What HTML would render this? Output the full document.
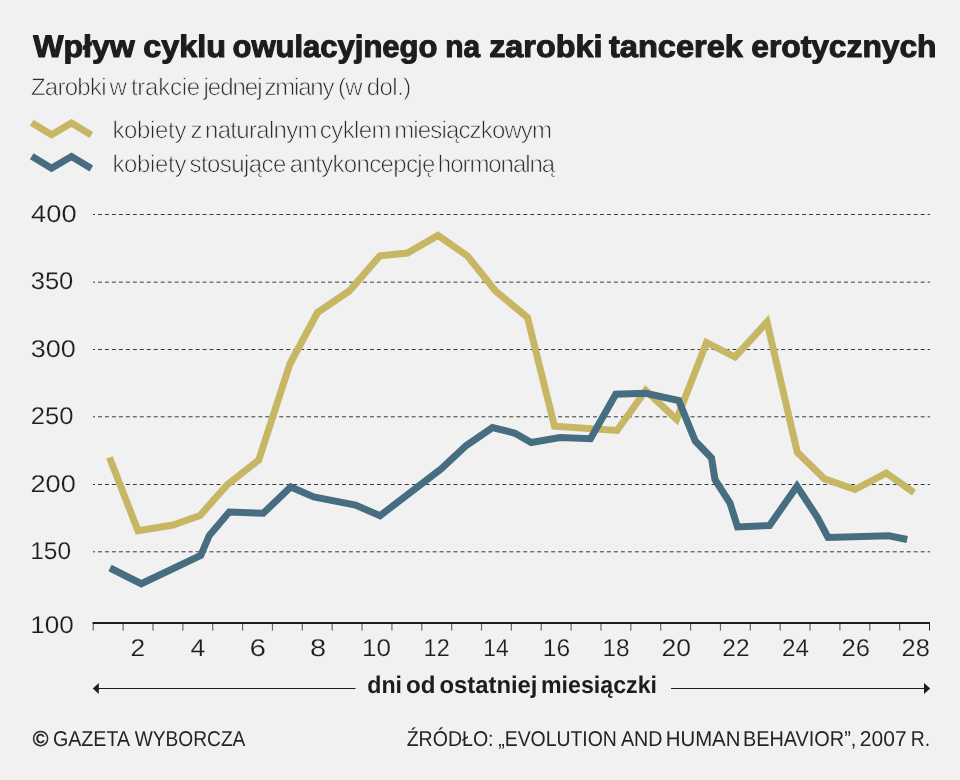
<!DOCTYPE html>
<html lang="pl">
<head>
<meta charset="utf-8">
<title>Wpływ cyklu owulacyjnego na zarobki tancerek erotycznych</title>
<style>
html,body{margin:0;padding:0;background:#f1f1f1;}
body{width:960px;height:780px;overflow:hidden;font-family:"Liberation Sans",sans-serif;}
svg{display:block;position:absolute;left:0;top:0;}
text{font-family:"Liberation Sans",sans-serif;fill:#1d1d1b;text-rendering:geometricPrecision;}
.title{font-weight:bold;font-size:31px;stroke:#1d1d1b;stroke-width:1.1px;stroke-linejoin:round;}
.sub,.leg{font-size:24px;fill:#2b2b2b;stroke:#f1f1f1;stroke-width:0.7px;}
.ylab,.xlab{font-size:24.2px;fill:#1d1d1b;stroke:#f1f1f1;stroke-width:0.2px;}
.axt{font-weight:bold;font-size:24px;}
.foot{font-size:21.5px;fill:#242424;}
.foot .cr{stroke:#242424;stroke-width:0.5px;}
.grid line{stroke:#3a3a3a;stroke-width:1;stroke-dasharray:3.984 2.988;stroke-dashoffset:1.984;}
.ticks line{stroke:#666;stroke-width:1.2;}
.ticks line.last{stroke:#222;stroke-width:1;}
.axis{stroke:#1d1d1b;stroke-width:2;}
.arr{stroke:#1d1d1b;stroke-width:1;}
.arrh{fill:#1d1d1b;}
.ser{fill:none;stroke-width:7;stroke-linejoin:miter;stroke-linecap:butt;}
.y{stroke:#c7b664;}
.b{stroke:#466e80;}
</style>
</head>
<body>
<svg width="960" height="780" viewBox="0 0 960 780" role="img" aria-label="Wykres: wpływ cyklu owulacyjnego na zarobki tancerek erotycznych">
<rect width="960" height="780" fill="#f1f1f1"/>
<g class="header">
<text class="title" y="57"><tspan x="33.15" textLength="101.62" lengthAdjust="spacingAndGlyphs">Wpływ</tspan> <tspan x="143.34" textLength="82.63" lengthAdjust="spacingAndGlyphs">cyklu</tspan> <tspan x="232.51" textLength="204.90" lengthAdjust="spacingAndGlyphs">owulacyjnego</tspan> <tspan x="445.25" textLength="34.80" lengthAdjust="spacingAndGlyphs">na</tspan> <tspan x="489.16" textLength="113.24" lengthAdjust="spacingAndGlyphs">zarobki</tspan> <tspan x="608.94" textLength="134.06" lengthAdjust="spacingAndGlyphs">tancerek</tspan> <tspan x="751.23" textLength="185.28" lengthAdjust="spacingAndGlyphs">erotycznych</tspan></text>
<text class="sub" y="95"><tspan x="30.89" textLength="75.62" lengthAdjust="spacing">Zarobki</tspan> <tspan x="109.42" textLength="13.87" lengthAdjust="spacing">w</tspan> <tspan x="130.90" textLength="69.17" lengthAdjust="spacing">trakcie</tspan> <tspan x="203.50" textLength="59.01" lengthAdjust="spacing">jednej</tspan> <tspan x="264.50" textLength="69.92" lengthAdjust="spacing">zmiany</tspan> <tspan x="338.00" textLength="24.65" lengthAdjust="spacing">(w</tspan> <tspan x="366.68" textLength="44.63" lengthAdjust="spacing">dol.)</tspan></text>
</g>
<g class="legend">
<polyline class="ser y" points="31.75,122.85 51.5,134.8 71.5,123.1 91.35,135"/>
<text class="leg" y="138.2"><tspan x="112.43" textLength="73.97" lengthAdjust="spacing">kobiety</tspan> <tspan x="190.54" textLength="13.82" lengthAdjust="spacing">z</tspan> <tspan x="205.00" textLength="112.57" lengthAdjust="spacing">naturalnym</tspan> <tspan x="319.84" textLength="71.73" lengthAdjust="spacing">cyklem</tspan> <tspan x="394.23" textLength="157.77" lengthAdjust="spacing">miesiączkowym</tspan></text>
<polyline class="ser b" points="31.75,156.35 51.5,168.3 71.5,156.6 91.35,168.5"/>
<text class="leg" y="171.5"><tspan x="112.43" textLength="73.97" lengthAdjust="spacing">kobiety</tspan> <tspan x="189.57" textLength="96.73" lengthAdjust="spacing">stosujące</tspan> <tspan x="289.79" textLength="145.49" lengthAdjust="spacing">antykoncepcję</tspan> <tspan x="437.85" textLength="117.28" lengthAdjust="spacing">hormonalną</tspan></text>
</g>
<g class="grid">
<line x1="93" y1="214.5" x2="930" y2="214.5"/>
<line x1="93" y1="282.15" x2="930" y2="282.15"/>
<line x1="93" y1="349.5" x2="930" y2="349.5"/>
<line x1="93" y1="416.8" x2="930" y2="416.8"/>
<line x1="93" y1="484.5" x2="930" y2="484.5"/>
<line x1="93" y1="551.8" x2="930" y2="551.8"/>
</g>
<g class="ylabels">
<text class="ylab" y="221.7"><tspan x="31.14" textLength="45.44" lengthAdjust="spacingAndGlyphs">400</tspan></text>
<text class="ylab" y="289.3"><tspan x="30.67" textLength="42.67" lengthAdjust="spacingAndGlyphs">350</tspan></text>
<text class="ylab" y="356.7"><tspan x="30.72" textLength="45.07" lengthAdjust="spacingAndGlyphs">300</tspan></text>
<text class="ylab" y="424.3"><tspan x="30.83" textLength="42.71" lengthAdjust="spacingAndGlyphs">250</tspan></text>
<text class="ylab" y="491.7"><tspan x="30.48" textLength="45.31" lengthAdjust="spacingAndGlyphs">200</tspan></text>
<text class="ylab" y="559"><tspan x="30.27" textLength="40.83" lengthAdjust="spacingAndGlyphs">150</tspan></text>
<text class="ylab" y="632.5"><tspan x="30.30" textLength="43.58" lengthAdjust="spacingAndGlyphs">100</tspan></text>
</g>
<g class="ticks">
<line x1="93.25" y1="623" x2="93.25" y2="630.6"/>
<line x1="123.12" y1="623" x2="123.12" y2="630.6"/>
<line x1="152.98" y1="623" x2="152.98" y2="630.6"/>
<line x1="182.85" y1="623" x2="182.85" y2="630.6"/>
<line x1="212.71" y1="623" x2="212.71" y2="630.6"/>
<line x1="242.58" y1="623" x2="242.58" y2="630.6"/>
<line x1="272.45" y1="623" x2="272.45" y2="630.6"/>
<line x1="302.31" y1="623" x2="302.31" y2="630.6"/>
<line x1="332.18" y1="623" x2="332.18" y2="630.6"/>
<line x1="362.04" y1="623" x2="362.04" y2="630.6"/>
<line x1="391.91" y1="623" x2="391.91" y2="630.6"/>
<line x1="421.78" y1="623" x2="421.78" y2="630.6"/>
<line x1="451.64" y1="623" x2="451.64" y2="630.6"/>
<line x1="481.51" y1="623" x2="481.51" y2="630.6"/>
<line x1="511.37" y1="623" x2="511.37" y2="630.6"/>
<line x1="541.24" y1="623" x2="541.24" y2="630.6"/>
<line x1="571.11" y1="623" x2="571.11" y2="630.6"/>
<line x1="600.97" y1="623" x2="600.97" y2="630.6"/>
<line x1="630.84" y1="623" x2="630.84" y2="630.6"/>
<line x1="660.70" y1="623" x2="660.70" y2="630.6"/>
<line x1="690.57" y1="623" x2="690.57" y2="630.6"/>
<line x1="720.44" y1="623" x2="720.44" y2="630.6"/>
<line x1="750.30" y1="623" x2="750.30" y2="630.6"/>
<line x1="780.17" y1="623" x2="780.17" y2="630.6"/>
<line x1="810.03" y1="623" x2="810.03" y2="630.6"/>
<line x1="839.90" y1="623" x2="839.90" y2="630.6"/>
<line x1="869.77" y1="623" x2="869.77" y2="630.6"/>
<line x1="899.63" y1="623" x2="899.63" y2="630.6"/>
<line x1="929.50" y1="623" x2="929.50" y2="630.6" class="last"/>
</g>
<line class="axis" x1="92.6" y1="623" x2="930" y2="623"/>
<g class="xlabels">
<text class="xlab" y="655.7"><tspan x="130.43" textLength="14.68" lengthAdjust="spacingAndGlyphs">2</tspan> <tspan x="190.41" textLength="14.82" lengthAdjust="spacingAndGlyphs">4</tspan> <tspan x="249.46" textLength="16.47" lengthAdjust="spacingAndGlyphs">6</tspan> <tspan x="309.99" textLength="16.16" lengthAdjust="spacingAndGlyphs">8</tspan> <tspan x="362.12" textLength="29.02" lengthAdjust="spacingAndGlyphs">10</tspan> <tspan x="423.58" textLength="26.13" lengthAdjust="spacingAndGlyphs">12</tspan> <tspan x="483.34" textLength="25.43" lengthAdjust="spacingAndGlyphs">14</tspan> <tspan x="542.73" textLength="27.37" lengthAdjust="spacingAndGlyphs">16</tspan> <tspan x="602.40" textLength="27.26" lengthAdjust="spacingAndGlyphs">18</tspan> <tspan x="661.43" textLength="29.54" lengthAdjust="spacingAndGlyphs">20</tspan> <tspan x="722.39" textLength="27.20" lengthAdjust="spacingAndGlyphs">22</tspan> <tspan x="782.07" textLength="26.93" lengthAdjust="spacingAndGlyphs">24</tspan> <tspan x="841.46" textLength="28.53" lengthAdjust="spacingAndGlyphs">26</tspan> <tspan x="901.57" textLength="28.31" lengthAdjust="spacingAndGlyphs">28</tspan></text>
</g>
<g class="series">
<polyline class="ser y" points="109.5,457.5 138,530.75 173,525 200,515.5 227.5,484.5 258.75,460 290,363.75 317.5,312.5 349.25,291 380,255.75 407.5,253 438,235.5 467.5,256 495.5,291 527.5,317.5 554.5,426.25 617,430.5 645.75,390.5 676.6,419.5 706.5,342.5 735,357 767,322 797.3,452.2 824.25,478.75 855,489.5 886.25,473 914,492.7"/>
<polyline class="ser b" points="110,568 141.25,583.75 200.75,555.5 209.25,535.5 229.25,512 263.25,513.25 290.75,487 313.75,497 355.5,505 380,515.75 441.25,468.75 466.25,445.5 492.5,427.5 515,433.25 531.25,442.5 560,437.5 590.5,438.75 615.75,394.25 645.75,393.25 678.75,400.6 695.25,441 711.5,458 715,479.6 730,503 737.5,527 769.5,525.5 797,486.25 817.5,517.5 828,537.5 888.9,535.8 907.2,539.5"/>
</g>
<g class="axis-title">
<line class="arr" x1="97" y1="688.5" x2="355.5" y2="688.5"/>
<polygon class="arrh" points="92.8,688.5 98.8,683 98.8,694"/>
<line class="arr" x1="671" y1="688.5" x2="926" y2="688.5"/>
<polygon class="arrh" points="930.2,688.5 924,683 924,694"/>
<text class="axt" y="693"><tspan x="367.30" textLength="34.72" lengthAdjust="spacingAndGlyphs">dni</tspan> <tspan x="405.92" textLength="29.51" lengthAdjust="spacingAndGlyphs">od</tspan> <tspan x="439.49" textLength="97.97" lengthAdjust="spacingAndGlyphs">ostatniej</tspan> <tspan x="540.97" textLength="116.01" lengthAdjust="spacingAndGlyphs">miesiączki</tspan></text>
</g>
<g class="footer">
<text class="foot" y="746"><tspan class="cr" x="32.68" textLength="15.68" lengthAdjust="spacingAndGlyphs">©</tspan> <tspan x="53.00" textLength="75.93" lengthAdjust="spacingAndGlyphs">GAZETA</tspan> <tspan x="134.70" textLength="110.70" lengthAdjust="spacingAndGlyphs">WYBORCZA</tspan></text>
<text class="foot" y="746"><tspan x="406.63" textLength="86.90" lengthAdjust="spacingAndGlyphs">ŹRÓDŁO:</tspan> <tspan x="498.22" textLength="118.65" lengthAdjust="spacingAndGlyphs">„EVOLUTION</tspan> <tspan x="621.01" textLength="41.44" lengthAdjust="spacingAndGlyphs">AND</tspan> <tspan x="665.73" textLength="74.70" lengthAdjust="spacingAndGlyphs">HUMAN</tspan> <tspan x="742.95" textLength="113.39" lengthAdjust="spacingAndGlyphs">BEHAVIOR”,</tspan> <tspan x="859.84" textLength="46.76" lengthAdjust="spacingAndGlyphs">2007</tspan> <tspan x="910.85" textLength="19.37" lengthAdjust="spacingAndGlyphs">R.</tspan></text>
</g>
</svg>
</body>
</html>
